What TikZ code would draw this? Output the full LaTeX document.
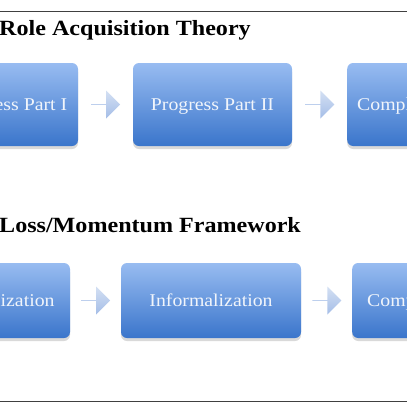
\documentclass[tikz,border=0pt]{standalone}
\usepackage{fontspec}
\setmainfont{Liberation Serif}
\newfontfamily\headfont[FakeStretch=1.11]{Liberation Serif}
\newfontfamily\boxfont[FakeStretch=1.1]{Liberation Serif}
\usetikzlibrary{shapes.arrows,shadows}
\definecolor{boxtop}{RGB}{152,188,241}
\definecolor{boxbot}{RGB}{58,117,203}
\definecolor{hoptop}{RGB}{212,224,243}
\definecolor{hopbot}{RGB}{164,189,231}
\definecolor{boxtext}{RGB}{241,245,251}
\tikzset{
  heading/.style={anchor=base west, inner sep=0pt, font=\headfont\bfseries\fontsize{21.7}{24}\selectfont},
  stage/.style={rounded corners=6pt, top color=boxtop, bottom color=boxbot, text=boxtext,
    font=\boxfont\fontsize{18}{20}\selectfont, text height=14pt, text depth=3pt,
    drop shadow={shadow xshift=0pt, shadow yshift=-3pt, opacity=0.3}},
  hop/.style={single arrow, single arrow head extend=6.5pt, minimum width=28pt,
    minimum height=29pt, inner sep=0pt, top color=hoptop, bottom color=hopbot},
  rule/.style={line width=1pt, black!75}
}
\begin{document}
\begin{tikzpicture}[x=1pt, y=-1pt]
  \useasboundingbox (0,0) rectangle (407,407);
  \clip (0,0) rectangle (407,407);
  \draw[rule] (0,11) -- (407,11);
  \draw[rule] (0,401) -- (407,401);

  \node[heading] (roletitle) at (-1,35) {Role Acquisition Theory};
  \node[stage, minimum width=138pt, minimum height=83pt] (role1) at (9,104.5) {Progress Part I};
  \node[stage, minimum width=159pt, minimum height=83pt] (role2) at (212.5,104.5) {Progress Part II};
  \node[stage, anchor=west, inner xsep=10pt, minimum height=83pt] (role3) at (347,104.5) {Completion};
  \path (role1.east) -- node[hop] (rolehop1) {} (role2.west);
  \path (role2.east) -- node[hop] (rolehop2) {} (role3.west);

  \node[heading] (losstitle) at (-1,232) {Loss/Momentum Framework};
  \node[stage, minimum width=142pt, minimum height=75pt] (loss1) at (-1,300.5) {Formalization};
  \node[stage, minimum width=180pt, minimum height=75pt] (loss2) at (211,300.5) {Informalization};
  \node[stage, anchor=west, inner xsep=15pt, minimum height=75pt] (loss3) at (352,300.5) {Completion};
  \path (loss1.east) -- node[hop] (losshop1) {} (loss2.west);
  \path (loss2.east) -- node[hop] (losshop2) {} (loss3.west);
\end{tikzpicture}
\end{document}
